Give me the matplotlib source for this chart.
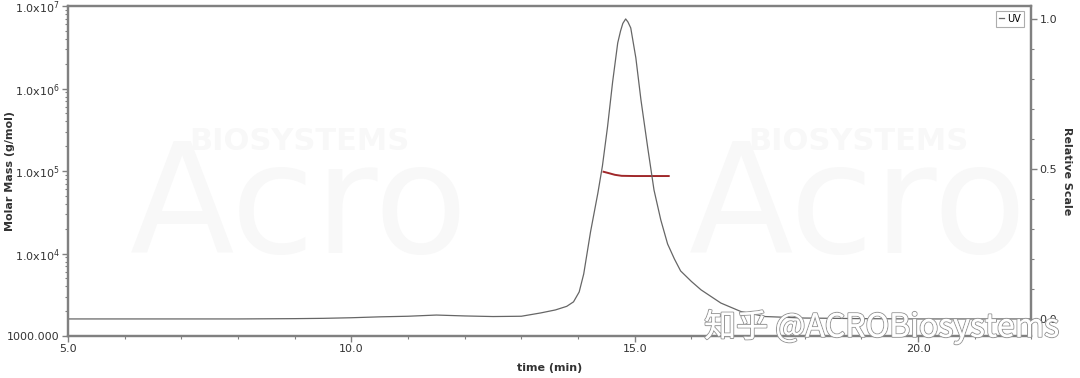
""" SEC-MALS trace: UV signal and molar mass across the peak."""
import numpy as np
import matplotlib.pyplot as plt
import matplotlib.patheffects as pe
from matplotlib.ticker import FixedLocator, MultipleLocator, LogLocator, NullFormatter

# UV trace (relative scale)
uv_time = [5.0, 6.0, 7.0, 8.0, 9.0, 9.5, 10.0, 10.5, 11.0, 11.5, 12.0, 12.5, 13.0,
           13.34, 13.6, 13.8, 13.92, 14.02, 14.10, 14.22, 14.35, 14.43, 14.52, 14.61,
           14.70, 14.75, 14.79, 14.84, 14.88, 14.93, 15.02, 15.11, 15.23, 15.34, 15.46, 15.58,
           15.70, 15.81, 16.0, 16.17, 16.52, 16.87, 17.3, 18.0, 19.0, 20.0, 21.0, 22.0]
uv_value = [0.0, 0.0, 0.0, 0.0, 0.001, 0.002, 0.004, 0.007, 0.009, 0.013, 0.010, 0.008, 0.009,
            0.02, 0.03, 0.042, 0.057, 0.09, 0.15, 0.29, 0.42, 0.51, 0.64, 0.79,
            0.92, 0.96, 0.985, 1.0, 0.99, 0.97, 0.87, 0.73, 0.57, 0.43, 0.33, 0.25,
            0.20, 0.16, 0.125, 0.097, 0.053, 0.025, 0.008, 0.003, 0.001, 0.0, 0.0, 0.0]

# molar mass across the peak (g/mol)
mm_time = [14.45, 14.55, 14.65, 14.77, 15.0, 15.3, 15.6]
mm_value = [9.8e4, 9.4e4, 9.0e4, 8.75e4, 8.7e4, 8.7e4, 8.7e4]

left_ticks = [1e3, 1e4, 1e5, 1e6, 1e7]
left_labels = ['1000.000', r'1.0x10$^{4}$', r'1.0x10$^{5}$', r'1.0x10$^{6}$', r'1.0x10$^{7}$']

fig = plt.figure(figsize=(10.8, 3.78), dpi=100)
ax = fig.add_axes([0.063, 0.111, 0.892, 0.873])
ax2 = ax.twinx()

spine_col = '#808080'
txt_col = '#333333'

# faint background watermark, kept inside the plot area
for xc in (0.24, 0.82):
    ax.text(xc, 0.59, 'BIOSYSTEMS', color='#f8f8f8', fontsize=22, ha='center',
            va='center', fontweight='bold', zorder=0, transform=ax.transAxes, clip_on=True)
    ax.text(xc, 0.38, 'Acro', color='#f8f8f8', fontsize=110, ha='center',
            va='center', zorder=0, transform=ax.transAxes, clip_on=True)

ax.set_yscale('log')
ax.set_ylim(1e3, 1.0e7)
ax.set_xlim(5.0, 22.0)
ax.plot(mm_time, mm_value, color='#a0282a', lw=1.4, zorder=3)

ax.yaxis.set_major_locator(FixedLocator(left_ticks))
ax.set_yticklabels(left_labels)
ax.yaxis.set_minor_locator(LogLocator(base=10, subs=np.arange(2, 10)))
ax.yaxis.set_minor_formatter(NullFormatter())
ax.xaxis.set_minor_locator(MultipleLocator(1.0))
ax.set_xticks([5, 10, 15, 20])
ax.set_xticklabels(['5.0', '10.0', '15.0', '20.0'])

ax2.set_ylim(-0.057, 1.043)
ax2.plot(uv_time, uv_value, color='#666666', lw=0.9, label='UV', zorder=2)
ax2.set_yticks([0.0, 0.5, 1.0])
ax2.set_yticklabels(['0.0', '0.5', '1.0'])
ax2.yaxis.set_minor_locator(FixedLocator(np.arange(0.0, 1.05, 0.1)))

for a in (ax, ax2):
    for s in a.spines.values():
        s.set_color(spine_col)
        s.set_linewidth(1.6)
    a.tick_params(which='major', length=4, width=1.0, color=spine_col,
                  labelsize=8, labelcolor=txt_col, pad=2)
    a.tick_params(which='minor', length=2, width=0.8, color=spine_col)

ax.set_ylabel('Molar Mass (g/mol)', fontsize=8, fontweight='bold', color=txt_col)
ax.yaxis.set_label_coords(-0.055, 0.5)
ax.set_xlabel('time (min)', fontsize=8, fontweight='bold', color=txt_col, labelpad=6)
ax2.set_ylabel('Relative Scale', fontsize=8, fontweight='bold', color=txt_col, rotation=-90)
ax2.yaxis.set_label_coords(1.042, 0.5)

leg = ax2.legend(loc='upper right', fontsize=7, handlelength=0.5, handletextpad=0.3,
                 borderpad=0.3, fancybox=False, edgecolor='#999999',
                 bbox_to_anchor=(0.997, 1.0))
leg.get_frame().set_linewidth(0.8)

# site watermark at bottom right
wm = fig.text(0.652, 0.135, '知乎 @ACROBiosystems', fontsize=23, color='white',
              family=['Noto Sans CJK SC', 'DejaVu Sans'], ha='left', va='center', zorder=10)
wm.set_path_effects([pe.withStroke(linewidth=1.5, foreground='#999999'), pe.Normal()])

fig.savefig('out.png', dpi=100)
